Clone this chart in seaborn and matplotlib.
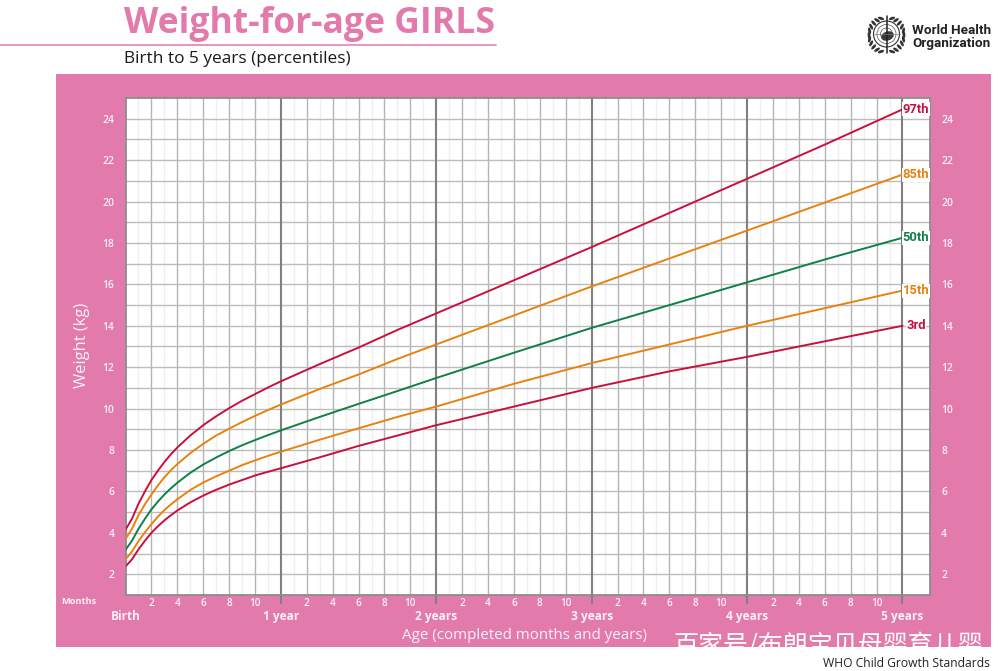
import numpy as np
import pandas as pd
import matplotlib
matplotlib.use("Agg")
import matplotlib.pyplot as plt
from matplotlib.patches import Rectangle, Circle, Ellipse
from matplotlib.transforms import blended_transform_factory
import seaborn as sns

months = [0,0.5,1,1.5,2,2.5,3,3.5,4,5,6,7,8,9,10,11,12,15,18,21,24,30,36,42,48,54,60]
p3  = [2.38,2.72,3.2,3.62,4.0,4.32,4.6,4.85,5.08,5.47,5.8,6.08,6.33,6.55,6.77,6.95,7.12,7.65,8.2,8.7,9.2,10.1,11.0,11.8,12.5,13.25,14.0]
p15 = [2.72,3.1,3.6,4.03,4.42,4.78,5.1,5.37,5.62,6.07,6.43,6.73,7.0,7.27,7.5,7.72,7.92,8.5,9.05,9.6,10.1,11.2,12.2,13.1,14.0,14.85,15.7]
p50 = [3.18,3.62,4.19,4.68,5.13,5.51,5.85,6.15,6.42,6.9,7.3,7.64,7.95,8.23,8.48,8.72,8.95,9.6,10.23,10.85,11.48,12.7,13.9,15.0,16.1,17.2,18.25]
p85 = [3.7,4.2,4.85,5.38,5.85,6.29,6.68,7.02,7.32,7.85,8.3,8.7,9.03,9.35,9.65,9.93,10.2,10.95,11.65,12.4,13.1,14.5,15.9,17.25,18.6,19.95,21.3]
p97 = [4.15,4.68,5.4,6.0,6.55,7.0,7.42,7.79,8.12,8.7,9.2,9.63,10.02,10.38,10.7,11.02,11.32,12.15,12.95,13.8,14.6,16.2,17.8,19.45,21.1,22.75,24.45]
labels = ["3rd","15th","50th","85th","97th"]
series = [p3,p15,p50,p85,p97]
colors = ["#C8103F","#E8820F","#0F8048","#E8820F","#C8103F"]
year_labels = ["Birth","1 year","2 years","3 years","4 years","5 years"]
W, H = 1000, 671
PINK = "#E27BAC"
TICK = "#FDF0F6"

sns.set_theme(style="white")
plt.rcParams['font.family'] = ['Open Sans', 'Noto Sans CJK SC', 'DejaVu Sans']

df = pd.DataFrame([{"month":m,"weight":v,"pct":l}
                   for l,s in zip(labels,series) for m,v in zip(months,s)])

fig = plt.figure(figsize=(W/100,H/100),dpi=100,facecolor="white")
bg = fig.add_axes([0,0,1,1],zorder=0)
bg.set_xlim(0,W); bg.set_ylim(H,0); bg.axis("off")
panel = Rectangle((56,74),935,573,fc=PINK,ec="none")
bg.add_patch(panel)
bg.plot([0,496],[44.5,44.5],color="#E88CB8",lw=1.3)
bg.text(124,33,"Weight-for-age GIRLS",color="#E27BAC",fontsize=25.6,fontweight="bold",va="baseline")
bg.text(124,63,"Birth to 5 years (percentiles)",color="#1a1a1a",fontsize=12.4,va="baseline")
bg.text(990,667,"WHO Child Growth Standards",color="#222222",fontsize=8.7,ha="right",va="baseline")
bg.text(912.5,34,"World Health",color="#222222",fontsize=9.7,fontweight="bold",family="Roboto",va="baseline")
bg.text(912.5,47,"Organization",color="#222222",fontsize=9.7,fontweight="bold",family="Roboto",va="baseline")
# emblem
cx, cy = 886.5, 34
bg.add_patch(Circle((cx,cy),13,fc="white",ec="#333333",lw=0.8))
for r in (9.5,6):
    bg.add_patch(Circle((cx,cy),r,fc="none",ec="#555555",lw=0.5))
bg.add_patch(Ellipse((cx+1,cy+2),13,9,angle=-20,fc="#3a3a3a",ec="none"))
bg.plot([cx,cx],[16,53],color="#222222",lw=1.1)
bg.plot([cx-13,cx+13],[cy,cy],color="#777777",lw=0.5)
for a in np.linspace(-1.25,1.25,11):
    for sgn in (-1,1):
        bg.add_patch(Ellipse((cx+sgn*17.5*np.cos(a),cy+1+17.5*np.sin(a)),2.8,6.5,
                             angle=-sgn*np.degrees(a),fc="#333333",ec="none"))
t = bg.text(673,653,"百家号/布朗宝贝母婴育儿婴",color="white",fontsize=18,
        family=["Noto Sans CJK SC"],va="baseline")
t.set_clip_path(panel); t.set_clip_on(True)
bg.text(524,639,"Age (completed months and years)",color=TICK,fontsize=10.9,ha="center",va="baseline")
bg.text(82,345.5,"Weight (kg)",color=TICK,fontsize=11.9,rotation=90,ha="center",va="center")

L,R,T,B = 125.5,930,98,595
ax = fig.add_axes([L/W,1-B/H,(R-L)/W,(B-T)/H],zorder=2,facecolor="white")
ax.set_xlim(0,(R-L)/12.95); ax.set_ylim(1,25)

for m in range(1,60):
    if m%12==0: continue
    ax.plot([m,m],[1,25],color="#EFEFEF" if m%2 else "#B4B4B4",lw=1.0,zorder=1)
for k in range(2,25):
    ax.axhline(k,color="#BCBCBC",lw=1.0,zorder=1.5)
trans = blended_transform_factory(ax.transData,ax.transAxes)
for y in range(12,61,12):
    ax.plot([y,y],[-8/497,1],transform=trans,color="#808080",lw=1.5,clip_on=False,zorder=2)

sns.lineplot(data=df,x="month",y="weight",hue="pct",hue_order=labels,palette=colors,
             lw=1.4,legend=False,ax=ax,zorder=3,errorbar=None,sort=True)
ax.set_xlabel(""); ax.set_ylabel("")

for s,l,c in zip(series,labels,colors):
    ax.text(61.05,s[-1],l,color=c,fontsize=9.4,fontweight="bold",ha="center",va="center",zorder=4,
            family="Roboto",bbox=dict(fc="white",ec="none",pad=0.4))

for sp in ax.spines.values():
    sp.set_color("#8C8C8C"); sp.set_linewidth(1.3)

yt = list(range(2,25,2))
ax.set_yticks(yt); ax.set_yticklabels(yt)
ax.tick_params(axis="y",length=0,pad=8,labelsize=7.4,labelcolor=TICK,
               left=False,right=False,labelleft=True,labelright=True)
xt = [m for m in range(2,60,2) if m%12]
ax.set_xticks(xt); ax.set_xticklabels([m%12 for m in xt])
ax.tick_params(axis="x",length=0,pad=2,labelsize=7.2,labelcolor=TICK)
for lab in ax.get_xticklabels()+ax.get_yticklabels():
    lab.set_fontweight("semibold")

for i,lab in enumerate(year_labels):
    ax.text(i*12,-21.5/497,lab,transform=trans,color=TICK,fontsize=8.6,fontweight="bold",
            ha="center",va="center",clip_on=False)
bg.text(79,601,"Months",color=TICK,fontsize=6.6,fontweight="bold",ha="center",va="center")

fig.savefig("out.png",dpi=100,facecolor="white")
